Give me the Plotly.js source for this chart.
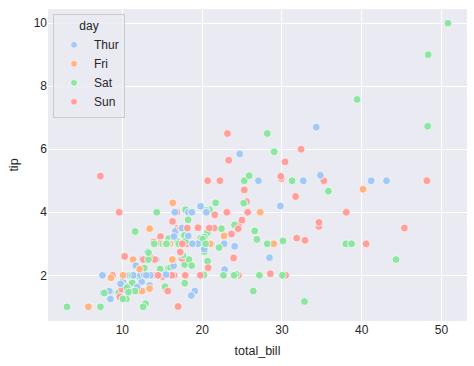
<!DOCTYPE html>
<html><head><meta charset="utf-8">
<script src="https://cdn.plot.ly/plotly-3.0.1.min.js"></script>
<style>html,body{margin:0;padding:0;background:#fff}#c{width:474px;height:366px}</style>
</head><body><div id="c"></div>
<script>
const total_bill = [16.99,10.34,21.01,23.68,24.59,25.29,8.77,26.88,15.04,14.78,10.27,35.26,15.42,18.43,14.83,21.58,10.33,16.29,16.97,20.65,17.92,20.29,15.77,39.42,19.82,17.81,13.37,12.69,21.7,19.65,9.55,18.35,15.06,20.69,17.78,24.06,16.31,16.93,18.69,31.27,16.04,17.46,13.94,9.68,30.4,18.29,22.23,32.4,28.55,18.04,12.54,10.29,34.81,9.94,25.56,19.49,38.01,26.41,11.24,48.27,20.29,13.81,11.02,18.29,17.59,20.08,16.45,3.07,20.23,15.01,12.02,17.07,26.86,25.28,14.73,10.51,17.92,27.2,22.76,17.29,19.44,16.66,10.07,32.68,15.98,34.83,13.03,18.28,24.71,21.16,28.97,22.49,5.75,16.32,22.75,40.17,27.28,12.03,21.01,12.46,11.35,15.38,44.3,22.42,20.92,15.36,20.49,25.21,18.24,14.31,14.0,7.25,38.07,23.95,25.71,17.31,29.93,10.65,12.43,24.08,11.69,13.42,14.26,15.95,12.48,29.8,8.52,14.52,11.38,22.82,19.08,20.27,11.17,12.26,18.26,8.51,10.33,14.15,16.0,13.16,17.47,34.3,41.19,27.05,16.43,8.35,18.64,11.87,9.78,7.51,14.07,13.13,17.26,24.55,19.77,29.85,48.17,25.0,13.39,16.49,21.5,12.66,16.21,13.81,17.51,24.52,20.76,31.71,10.59,10.63,50.81,15.81,7.25,31.85,16.82,32.9,17.89,14.48,9.6,34.63,34.65,23.33,45.35,23.17,40.55,20.69,20.9,30.46,18.15,23.1,15.69,19.81,28.44,15.48,16.58,7.56,10.34,43.11,13.0,13.51,18.71,12.74,13.0,16.4,20.53,16.47,26.59,38.73,24.27,12.76,30.06,25.89,48.33,13.27,28.17,12.9,28.15,11.59,7.74,30.14,12.16,13.42,8.58,15.98,13.42,16.27,10.09,20.45,13.28,22.12,24.01,15.69,11.61,10.77,15.53,10.07,12.6,32.83,35.83,29.03,27.18,22.67,17.82,18.78];
const tip = [1.01,1.66,3.5,3.31,3.61,4.71,2.0,3.12,1.96,3.23,1.71,5.0,1.57,3.0,3.02,3.92,1.67,3.71,3.5,3.35,4.08,2.75,2.23,7.58,3.18,2.34,2.0,2.0,4.3,3.0,1.45,2.5,3.0,2.45,3.27,3.6,2.0,3.07,2.31,5.0,2.24,2.54,3.06,1.32,5.6,3.0,5.0,6.0,2.05,3.0,2.5,2.6,5.2,1.56,4.34,3.51,3.0,1.5,1.76,6.73,3.21,2.0,1.98,3.76,2.64,3.15,2.47,1.0,2.01,2.09,1.97,3.0,3.14,5.0,2.2,1.25,3.08,4.0,3.0,2.71,3.0,3.4,1.83,5.0,2.03,5.17,2.0,4.0,5.85,3.0,3.0,3.5,1.0,4.3,3.25,4.73,4.0,1.5,3.0,1.5,2.5,3.0,2.5,3.48,4.08,1.64,4.06,4.29,3.76,4.0,3.0,1.0,4.0,2.55,4.0,3.5,5.07,1.5,1.8,2.92,2.31,1.68,2.5,2.0,2.52,4.2,1.48,2.0,2.0,2.18,1.5,2.83,1.5,2.0,3.25,1.25,2.0,2.0,2.0,2.75,3.5,6.7,5.0,5.0,2.3,1.5,1.36,1.63,1.73,2.0,2.5,2.0,2.74,2.0,2.0,5.14,5.0,3.75,2.61,2.0,3.5,2.5,2.0,2.0,3.0,3.48,2.24,4.5,1.61,2.0,10.0,3.16,5.15,3.18,4.0,3.11,2.0,2.0,4.0,3.55,3.68,5.65,3.5,6.5,3.0,5.0,3.5,2.0,3.5,4.0,1.5,4.19,2.56,2.02,4.0,1.44,2.0,5.0,2.0,2.0,4.0,2.01,2.0,2.5,4.0,3.23,3.41,3.0,2.03,2.23,2.0,5.16,9.0,2.5,6.5,1.1,3.0,1.5,1.44,3.09,2.2,3.48,1.92,3.0,1.58,2.5,2.0,3.0,2.72,2.88,2.0,3.0,3.39,1.47,3.0,1.25,1.0,1.17,4.67,5.92,2.0,2.0,1.75,3.0];
const day = ["Sun","Sun","Sun","Sun","Sun","Sun","Sun","Sun","Sun","Sun","Sun","Sun","Sun","Sun","Sun","Sun","Sun","Sun","Sun","Sat","Sat","Sat","Sat","Sat","Sat","Sat","Sat","Sat","Sat","Sat","Sat","Sat","Sat","Sat","Sat","Sat","Sat","Sat","Sat","Sat","Sat","Sun","Sun","Sun","Sun","Sun","Sun","Sun","Sun","Sun","Sun","Sun","Sun","Sun","Sun","Sun","Sat","Sat","Sat","Sat","Sat","Sat","Sat","Sat","Sat","Sat","Sat","Sat","Sat","Sat","Sat","Sat","Sat","Sat","Sat","Sat","Sat","Thur","Thur","Thur","Thur","Thur","Thur","Thur","Thur","Thur","Thur","Thur","Thur","Thur","Fri","Fri","Fri","Fri","Fri","Fri","Fri","Fri","Fri","Fri","Fri","Fri","Sat","Sat","Sat","Sat","Sat","Sat","Sat","Sat","Sat","Sat","Sun","Sun","Sun","Sun","Sun","Thur","Thur","Thur","Thur","Thur","Thur","Thur","Thur","Thur","Thur","Thur","Thur","Thur","Thur","Thur","Thur","Thur","Thur","Thur","Thur","Thur","Thur","Thur","Thur","Thur","Thur","Thur","Thur","Thur","Thur","Thur","Thur","Thur","Sun","Sun","Sun","Sun","Sun","Sun","Sun","Sun","Sun","Sun","Sun","Sun","Sun","Sun","Sun","Sun","Sun","Sun","Sat","Sat","Sat","Sat","Sun","Sun","Sun","Sun","Sun","Sun","Sun","Sun","Sun","Sun","Sun","Sun","Sun","Sun","Sun","Sun","Sun","Sun","Sun","Thur","Thur","Thur","Thur","Thur","Thur","Thur","Thur","Thur","Thur","Thur","Thur","Thur","Thur","Thur","Sat","Sat","Sat","Sat","Sat","Sat","Sat","Sat","Sat","Sat","Sat","Sat","Sat","Sat","Fri","Fri","Fri","Fri","Fri","Fri","Fri","Sat","Sat","Sat","Sat","Sat","Sat","Sat","Sat","Sat","Sat","Sat","Sat","Sat","Sat","Sat","Sat","Thur"];
const days = ["Thur","Fri","Sat","Sun"];
const palette = ["#a1c9f4","#ffb482","#8de5a1","#ff9f9b"];

const colorOf = {};
days.forEach((d,i)=>colorOf[d]=palette[i]);
const traces = [{
  type:"scatter", mode:"markers", x: total_bill, y: tip, showlegend:false,
  marker:{size:7.8, color: day.map(d=>colorOf[d]), line:{color:"#ffffff", width:0.7}},
  hoverinfo:"x+y"
}];
days.forEach((d,i)=>traces.push({
  type:"scatter", mode:"markers", x:[null], y:[null], name:d, showlegend:true,
  marker:{size:6.5, color:palette[i], line:{color:"#ffffff", width:0.5}}
}));
const font = {family:"Liberation Sans, Arial, sans-serif", color:"#262626", size:12};
Plotly.newPlot("c", traces, {
  width:474, height:366,
  margin:{l:48, r:7, t:9, b:45},
  paper_bgcolor:"#ffffff", plot_bgcolor:"#eaeaf2",
  font: font,
  xaxis:{range:[0.683,53.197], tickvals:[10,20,30,40,50], gridcolor:"#ffffff", gridwidth:1, zeroline:false, showline:false, ticks:"",
    title:{text:"total_bill", font:{size:12.5, color:"#262626"}, standoff:10}, tickfont:{size:12}},
  yaxis:{range:[0.55,10.45], tickvals:[2,4,6,8,10], gridcolor:"#ffffff", gridwidth:1, zeroline:false, showline:false, ticks:"",
    title:{text:"tip", font:{size:12.5, color:"#262626"}, standoff:12}, tickfont:{size:12}},
  legend:{x:0.012, y:0.985, xanchor:"left", yanchor:"top", bgcolor:"rgba(234,234,242,0.8)", bordercolor:"#cccccc", borderwidth:1,
    title:{text:"day", side:"top center", font:{size:12}}, font:{size:12}, itemwidth:30, tracegroupgap:0}
}, {staticPlot:true});
</script></body></html>
